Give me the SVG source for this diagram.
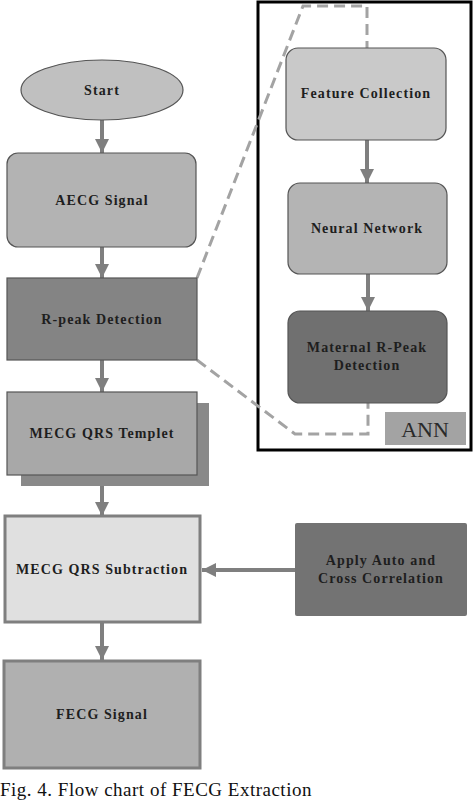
<svg xmlns="http://www.w3.org/2000/svg" width="474" height="800" viewBox="0 0 474 800">
<defs>
<marker id="ah" markerUnits="userSpaceOnUse" markerWidth="14" markerHeight="16" refX="14" refY="7" orient="auto">
<path d="M0,0 L14,7 L0,14 Z" fill="#7f7f7f"/>
</marker>
<style>
.t{font-family:"Liberation Serif","Times New Roman",serif;font-weight:bold;font-size:14px;fill:#1e1e1e;text-anchor:middle;letter-spacing:1.1px}
.c{stroke:#7f7f7f;stroke-width:4;fill:none;marker-end:url(#ah)}
.d{stroke:#a3a3a3;stroke-width:3;fill:none;stroke-dasharray:11 6}
.s{stroke:#555;stroke-width:1.2}
</style>
</defs>
<rect width="474" height="800" fill="#fff"/>
<g id="ann-frame">
<rect x="258" y="2" width="213" height="448" fill="#fff" stroke="#000" stroke-width="3"/>
</g>
<g id="connectors">
<line class="c" x1="102" y1="120" x2="102" y2="153"/>
<line class="c" x1="102" y1="247" x2="102" y2="278"/>
<line class="c" x1="102" y1="360" x2="102" y2="392"/>
<line class="c" x1="102" y1="486" x2="102" y2="516"/>
<line class="c" x1="102" y1="622" x2="102" y2="660"/>
<line class="c" x1="295" y1="570" x2="202" y2="570"/>
<line class="c" x1="367" y1="140" x2="367" y2="183"/>
<line class="c" x1="368" y1="274" x2="368" y2="311"/>
<polyline class="d" points="197,278 303,6 367,6 367,48"/>
<polyline class="d" points="197,360 295,434 368,434 368,403"/>
</g>
<g id="start">
<ellipse cx="102" cy="90" rx="81" ry="30" fill="#c0c0c0" class="s"/>
<text class="t" x="102" y="95">Start</text>
</g>
<g id="aecg">
<rect x="7" y="153" width="189" height="94" rx="11" fill="#b3b3b3" class="s"/>
<text class="t" x="102" y="205">AECG Signal</text>
</g>
<g id="rpeak">
<rect x="7" y="278" width="190" height="82" fill="#848484" class="s"/>
<text class="t" x="102" y="324">R-peak Detection</text>
</g>
<g id="templet">
<rect x="21" y="403" width="188" height="83" fill="#898989"/>
<rect x="7" y="392" width="190" height="83" fill="#a8a8a8" class="s"/>
<text class="t" x="102" y="438">MECG QRS Templet</text>
</g>
<g id="subtraction">
<rect x="5" y="516" width="195" height="106" fill="#e0e0e0" stroke="#7f7f7f" stroke-width="3"/>
<text class="t" x="102" y="574">MECG QRS Subtraction</text>
</g>
<g id="fecg">
<rect x="4" y="661" width="196" height="107" fill="#b0b0b0" stroke="#7f7f7f" stroke-width="3"/>
<text class="t" x="102" y="719">FECG Signal</text>
</g>
<g id="correlation">
<rect x="295" y="523" width="172" height="93" rx="2" fill="#737373"/>
<text class="t" x="381" y="565">Apply Auto and</text>
<text class="t" x="381" y="583">Cross Correlation</text>
</g>
<g id="feature">
<rect x="286" y="48" width="160" height="92" rx="12" fill="#c9c9c9" class="s"/>
<text class="t" x="366" y="98">Feature Collection</text>
</g>
<g id="neural">
<rect x="288" y="183" width="159" height="91" rx="12" fill="#b4b4b4" class="s"/>
<text class="t" x="367" y="233">Neural Network</text>
</g>
<g id="maternal">
<rect x="288" y="311" width="159" height="92" rx="12" fill="#707070" class="s"/>
<text class="t" x="367" y="352">Maternal R-Peak</text>
<text class="t" x="367" y="370">Detection</text>
</g>
<g id="ann-label">
<rect x="385" y="412" width="81" height="33" fill="#a3a3a3"/>
<text x="425" y="437" font-family="Liberation Serif,serif" font-size="22" fill="#2a2a2a" text-anchor="middle">ANN</text>
</g>
<g id="caption">
<text x="0" y="796" font-family="Liberation Serif,serif" font-size="19" letter-spacing="0.5" fill="#111">Fig. 4. Flow chart of FECG Extraction</text>
</g>
</svg>
